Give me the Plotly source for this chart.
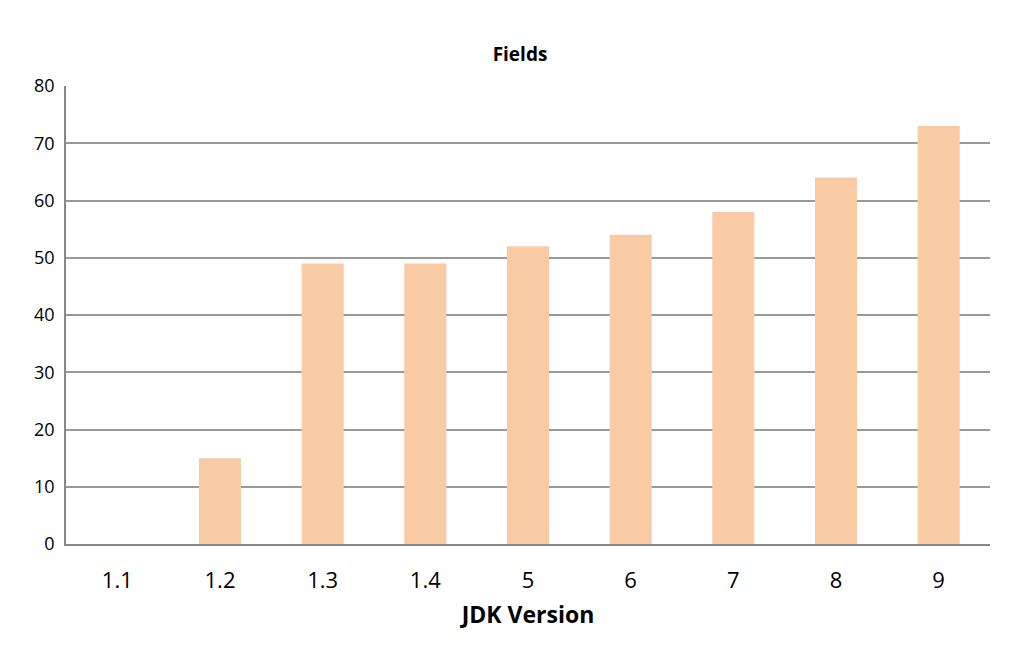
import plotly.graph_objects as go

versions = ["1.1", "1.2", "1.3", "1.4", "5", "6", "7", "8", "9"]
fields = [0, 15, 49, 49, 52, 54, 58, 64, 73]
y_ticks = [0, 10, 20, 30, 40, 50, 60, 70, 80]

fig = go.Figure(go.Bar(x=versions, y=fields, width=0.41,
                       marker=dict(color="#F9CBA5", line=dict(width=0))))
fig.update_layout(
    width=1024, height=664,
    paper_bgcolor="white", plot_bgcolor="white",
    margin=dict(l=58, r=42, t=78, b=128, autoexpand=False),
    title=dict(text="<b>Fields</b>", x=0.5, xanchor="center", y=0.93, yanchor="middle",
               font=dict(family="Open Sans", size=19, color="black")),
    font=dict(family="Open Sans", color="black"),
    showlegend=False,
)
fig.update_xaxes(title=dict(text="<b>JDK Version</b>", font=dict(size=23), standoff=14),
                 tickfont=dict(size=22), showline=True, linecolor="#888", linewidth=1.5,
                 ticks="", showgrid=False, ticklabelstandoff=16)
fig.update_yaxes(range=[0, 80], tickvals=y_ticks, tickfont=dict(size=18),
                 showgrid=True, gridcolor="#999", gridwidth=1.5, ticklabelstandoff=6,
                 showline=True, linecolor="#888", linewidth=1.5, ticks="", zeroline=False)
fig.write_html("out.html")
